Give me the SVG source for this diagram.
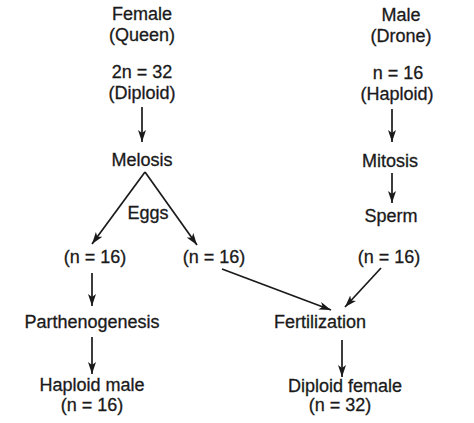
<svg xmlns="http://www.w3.org/2000/svg" width="474" height="423" viewBox="0 0 474 423">
<defs>
<marker id="ah" viewBox="0 0 12 8" refX="12" refY="4" markerWidth="12" markerHeight="8" markerUnits="userSpaceOnUse" orient="auto">
<path d="M0,0 L12,4 L0,8 L3,4 Z" fill="#1a1a1a"/>
</marker>
<style>
text{font-family:"Liberation Sans",Arial,sans-serif;font-size:18px;fill:#1a1a1a;stroke:#1a1a1a;stroke-width:0.3;text-anchor:middle}
.c line{stroke:#1a1a1a;stroke-width:1.7;marker-end:url(#ah)}
</style>
</defs>
<rect width="474" height="423" fill="#ffffff"/>
<g id="female"><text x="142" y="20">Female</text><text x="142" y="41">(Queen)</text></g>
<g id="female-ploidy"><text x="142" y="78">2n = 32</text><text x="142" y="99">(Diploid)</text></g>
<g id="meiosis"><text x="142" y="166">Melosis</text></g>
<g id="eggs-label"><text x="148" y="219">Eggs</text></g>
<g id="egg1"><text x="95" y="263">(n = 16)</text></g>
<g id="egg2"><text x="214" y="263">(n = 16)</text></g>
<g id="male"><text x="401" y="21">Male</text><text x="401" y="42">(Drone)</text></g>
<g id="male-ploidy"><text x="398" y="79">n = 16</text><text x="397" y="100">(Haploid)</text></g>
<g id="mitosis"><text x="390" y="167">Mitosis</text></g>
<g id="sperm"><text x="391" y="222">Sperm</text></g>
<g id="sperm-n"><text x="389" y="263">(n = 16)</text></g>
<g id="parthenogenesis"><text x="92" y="328">Parthenogenesis</text></g>
<g id="haploid-male"><text x="92" y="391">Haploid male</text><text x="92" y="411">(n = 16)</text></g>
<g id="fertilization"><text x="320" y="328">Fertilization</text></g>
<g id="diploid-female"><text x="345" y="392">Diploid female</text><text x="340" y="411">(n = 32)</text></g>
<g class="c" id="connectors">
<line x1="142" y1="107" x2="142" y2="142"/>
<line x1="392" y1="109" x2="392" y2="142"/>
<line x1="145" y1="172" x2="92" y2="244"/>
<line x1="145" y1="172" x2="197" y2="245"/>
<line x1="392" y1="173" x2="392" y2="203"/>
<line x1="92" y1="273" x2="92" y2="306"/>
<line x1="222" y1="269" x2="331" y2="310"/>
<line x1="381" y1="268" x2="345" y2="307"/>
<line x1="92" y1="337" x2="92" y2="374"/>
<line x1="342" y1="340" x2="342" y2="377"/>
</g>
</svg>
